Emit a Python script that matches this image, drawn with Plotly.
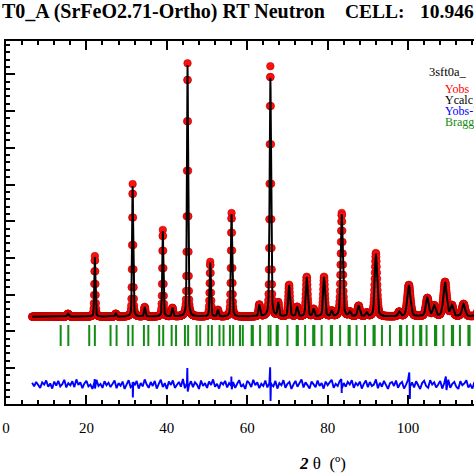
import numpy as np
import plotly.graph_objects as go

# ---------------- data ----------------
baseline = 1400
# peak position (deg), height of Yobs above background, height of Ycalc, FWHM (deg)
peak_pos = [15.4, 22.1, 27.3, 31.5, 34.5, 39.0, 41.4, 45.15, 50.8, 52.7, 56.1, 63.0, 65.75,
            67.7, 70.4, 72.4, 74.8, 76.5, 79.1, 81.0, 83.5, 85.5, 87.7, 89.7, 92.0, 97.8,
            100.2, 104.8, 106.5, 109.2, 110.9, 113.8, 118.0]
peak_obs = [80, 1650, 80, 3610, 260, 2360, 235, 6900, 1490, 180, 2820, 320, 6820,
            370, 860, 260, 1080, 200, 1080, 150, 2820, 120, 290, 100, 1730, 125,
            860, 500, 290, 940, 290, 340, 500]
peak_calc = [80, 1620, 80, 3560, 260, 2330, 235, 6850, 1470, 180, 2790, 320, 6500,
             370, 850, 260, 1070, 200, 1070, 150, 2790, 120, 290, 100, 1710, 125,
             850, 500, 290, 930, 290, 340, 500]
peak_fwhm = [0.5, 0.32, 0.4, 0.32, 0.4, 0.33, 0.4, 0.34, 0.36, 0.4, 0.38, 0.45, 0.42,
             0.45, 0.5, 0.5, 0.55, 0.5, 0.55, 0.5, 0.6, 0.6, 0.65, 0.6, 0.7, 0.7,
             0.95, 0.9, 0.8, 1.0, 0.8, 0.9, 1.0]

# difference curve (Yobs-Ycalc, shifted), every 0.5 deg from 6.5 to 120
diff_start, diff_step = 6.5, 0.5
diff_vals = [
    -400, -500, -380, -470, -540, -390, -450, -340, -510, -420, -560, -370, -480, -350, -500, -440, -320, -530, -410, -470,
    -360, -520, -310, -460, -390, -550, -420, -350, -500, -450, -570, -380, -320, -490, -430, -540, -360, -470, -400, -520,
    -440, -340, -550, -410, -480, -370, -570, -430, -330, -520, -390, -470, -350, -560, -410, -500, -310, -450, -540, -380,
    -490, -350, -560, -430, -320, -520, -410, -570, -370, -460, -340, -540, -440, -380, -510, -300, -550, -410, -480, -360,
    -520, -390, -450, -570, -340, -490, -410, -540, -370, -460, -310, -510, -430, -560, -380, -450, -350, -530, -410, -480,
    -380, -540, -430, -330, -510, -450, -570, -350, -410, -520, -320, -470, -390, -550, -430, -490, -340, -530, -410, -450,
    -500, -350, -560, -410, -470, -330, -540, -430, -380, -570, -450, -350, -510, -410, -310, -530, -390, -470, -560, -370,
    -450, -520, -340, -490, -410, -560, -370, -470, -390, -320, -540, -430, -490, -350, -570, -410, -510, -380, -450, -330,
    -540, -410, -470, -370, -560, -430, -340, -520, -380, -490, -450, -310, -550, -400, -510, -350, -470, -570, -410, -380,
    -490, -340, -540, -430, -380, -560, -450, -320, -510, -390, -530, -360, -470, -570, -410, -350, -490, -540, -330, -450,
    -390, -530, -450, -350, -560, -410, -490, -320, -540, -430, -380, -510, -570, -360, -470, -420, -330, -530, -450, -560,
    -380, -490, -350, -540, -430, -470, -340, -520]
# sharp misfit spikes at the strong reflections
spike_x = [22.05, 22.15, 31.45, 31.55, 31.65, 45.1, 45.2, 56.05, 56.15, 65.7, 65.8, 65.9,
           83.4, 83.5, 100.3, 100.45, 109.4, 109.55]
spike_y = [-300, -560, -470, -800, -380, 0, -640, -230, -580, 20, -900, -400,
           -300, -680, -120, -840, -230, -600]

# Bragg reflection positions (deg)
bragg_pos = [13.6, 15.5, 20.7, 22.1, 26.0, 27.5, 30.4, 31.5, 34.3, 35.4, 38.1, 39.1, 41.2, 42.3,
             44.5, 45.3, 47.4, 48.3, 50.3, 51.2, 53.1, 54.1, 55.7, 56.5, 58.2, 58.9, 61.1, 61.4,
             63.2, 65.3, 65.8, 67.3, 67.6, 70.0, 72.3, 72.6, 74.4, 76.4, 76.7, 78.5, 80.8, 81.1,
             83.1, 85.2, 85.5, 87.2, 89.3, 91.4, 91.7, 93.5, 95.5, 98.0, 98.3, 99.7, 101.3, 103.0,
             103.3, 104.6, 106.7, 107.0, 108.8, 110.9, 111.2, 112.9, 115.0, 115.3, 117.0, 119.0]
bragg_level = 886

# ---------------- profile model ----------------
x = np.arange(6.5, 120.0 + 1e-9, 0.05)


def pv(xx, p, h, w, eta=0.35):
    d = (xx - p) / w
    return h * (eta / (1 + 4 * d * d) + (1 - eta) * np.exp(-4 * np.log(2) * d * d))


y_obs = np.full_like(x, baseline, dtype=float)
y_calc = np.full_like(x, baseline, dtype=float)
for p, ho, hc, w in zip(peak_pos, peak_obs, peak_calc, peak_fwhm):
    y_obs += pv(x, p, ho, w)
    y_calc += pv(x, p, hc, w)

diff_x = [diff_start + i * diff_step for i in range(len(diff_vals))]
pairs = sorted(list(zip(diff_x, diff_vals)) + list(zip(spike_x, spike_y)))
dx = [a for a, b in pairs]
dy = [b for a, b in pairs]

# ---------------- figure ----------------
green = '#138c13'
fig = go.Figure()
fig.add_trace(go.Scatter(x=x, y=y_obs, mode='markers',
                         marker=dict(symbol='circle', size=7.5, color='#ff1010',
                                     line=dict(color='#c00000', width=0.6))))
fig.add_trace(go.Scatter(x=x, y=y_calc, mode='lines', line=dict(color='black', width=2)))
fig.add_trace(go.Scatter(x=dx, y=dy, mode='lines', line=dict(color='#0000ff', width=1.9)))
fig.add_trace(go.Scatter(x=bragg_pos, y=[bragg_level] * len(bragg_pos), mode='markers',
                         marker=dict(symbol='line-ns-open', size=15, color=green,
                                     line=dict(color=green, width=2))))

W, H = 474, 474
L, R, T, B = 6, 0, 41, 70
pw, ph = W - L - R, H - T - B


def px(xp):
    return (xp - L) / pw


def py(yp):
    return (H - B - yp) / ph


serif = 'Liberation Serif'
anns = []


def add(text, xp, yp, size, color='black', xanchor='left'):
    anns.append(dict(text=text, x=px(xp), y=py(yp), xref='paper', yref='paper',
                     xanchor=xanchor, yanchor='middle', showarrow=False,
                     font=dict(family=serif, size=size, color=color)))


add('<b>T0_A (SrFeO2.71-Ortho) RT Neutron</b>', 0, 12, 20)
add('<b>CELL:</b>', 343, 12, 19.5)
add('<b>10.9465</b>', 418, 12, 19.5)
add('3sft0a_', 427, 72, 12.5)
add('Yobs', 443, 89, 12, 'red')
add('Ycalc', 443, 100, 12, 'black')
add('Yobs-Ycalc', 443, 111, 12, 'blue')
add('Bragg_position', 443, 122, 12, green)
add('<b><i>2</i></b>\u00a0θ\u00a0\u00a0(º)', 322, 464, 17, xanchor='center')

fig.update_layout(
    width=W, height=H, margin=dict(l=L, r=R, t=T, b=B, pad=0),
    paper_bgcolor='white', plot_bgcolor='white', showlegend=False,
    annotations=anns,
    xaxis=dict(range=[0, 116.4], showline=True, linecolor='black', linewidth=2,
               mirror='ticks', ticks='inside', ticklen=9, tickwidth=2, tickcolor='black',
               dtick=20, tick0=0, showgrid=False, zeroline=False,
               minor=dict(ticks='inside', ticklen=4, tickwidth=1.5, dtick=4, tick0=0,
                          tickcolor='black', showgrid=False),
               tickfont=dict(family=serif, size=15, color='black'), ticklabelstandoff=9),
    yaxis=dict(range=[-980, 8910], showline=True, linecolor='black', linewidth=2,
               mirror=False, ticks='inside', ticklen=9, tickwidth=2, tickcolor='black',
               dtick=1000, tick0=0, showgrid=False, zeroline=False, showticklabels=False,
               minor=dict(ticks='inside', ticklen=4, tickwidth=1.5, dtick=200, tick0=0,
                          tickcolor='black', showgrid=False)),
)

fig.write_html('out.html')
